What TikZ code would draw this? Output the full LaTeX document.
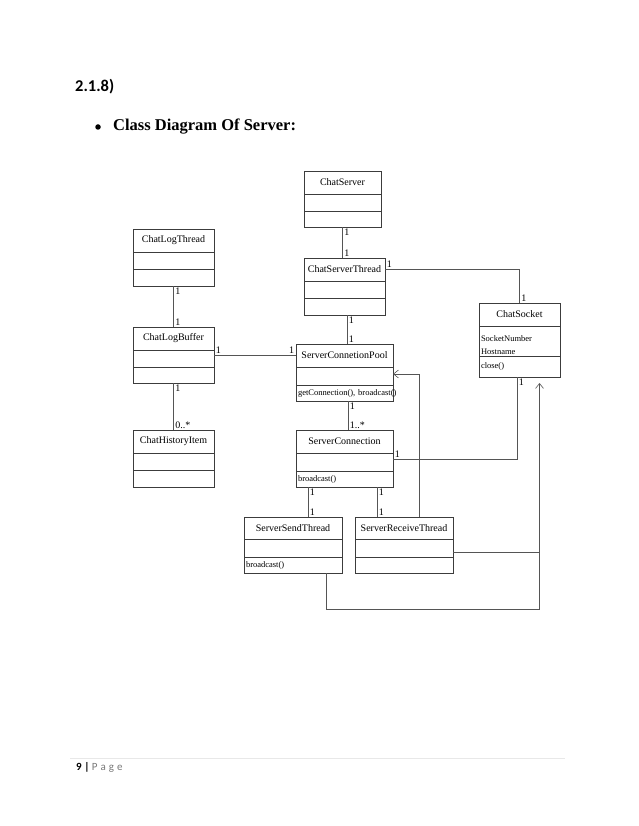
\documentclass[tikz,border=0pt]{standalone}
\usepackage{fontspec}
\setmainfont{Liberation Serif}
\newfontfamily\calibri{Carlito}
\usepackage{tikz}
\usetikzlibrary{arrows.meta,positioning}
\definecolor{umlline}{RGB}{60,60,60}
\definecolor{umlconn}{RGB}{85,85,85}
\definecolor{pagegray}{RGB}{120,120,120}
\definecolor{rulegray}{RGB}{232,232,232}
\tikzstyle{clsname} = [draw=umlline, line width=0.6pt, anchor=north west, minimum height=23pt, inner sep=2pt, outer sep=0pt, font=\fontsize{10}{12}\selectfont]
\tikzstyle{clsbody} = [draw=umlline, line width=0.6pt, minimum height=17pt, inner sep=2pt, outer sep=0pt, align=left, font=\fontsize{8.5}{12.5}\selectfont]
\tikzstyle{assoc} = [draw=umlconn, line width=0.6pt]
\tikzstyle{navarrow} = [assoc, -{Straight Barb[length=5pt,width=8pt]}]
\tikzstyle{mult} = [inner sep=1.5pt, font=\fontsize{10}{11}\selectfont]

\begin{document}
\begin{tikzpicture}[x=1pt,y=-1pt]
\useasboundingbox (0,0) rectangle (638,826);

% Heading
\node[anchor=west, inner sep=0, font=\calibri\bfseries\fontsize{16.5}{18}\selectfont] (sec) at (75,87) {2.1.8)};
\node[circle, fill, inner sep=0, minimum size=5.5pt] (dot) at (98,127) {};
\node[anchor=west, inner sep=0, font=\bfseries\fontsize{16.5}{18}\selectfont] (title) at (113,127) {Class Diagram Of Server:};

% Classes
\node[clsname, minimum width=77pt] (srv) at (304,171) {ChatServer};
\node[clsbody, minimum width=77pt, below=0pt of srv] (srv-a) {};
\node[clsbody, minimum width=77pt, minimum height=16pt, below=0pt of srv-a] (srv-o) {};

\node[clsname, minimum width=81pt] (srvThread) at (304,258) {ChatServerThread};
\node[clsbody, minimum width=81pt, below=0pt of srvThread] (srvThread-a) {};
\node[clsbody, minimum width=81pt, below=0pt of srvThread-a] (srvThread-o) {};

\node[clsname, minimum width=81pt] (logThread) at (133,229) {ChatLogThread};
\node[clsbody, minimum width=81pt, below=0pt of logThread] (logThread-a) {};
\node[clsbody, minimum width=81pt, below=0pt of logThread-a] (logThread-o) {};

\node[clsname, minimum width=81pt] (logBuf) at (133,327) {ChatLogBuffer};
\node[clsbody, minimum width=81pt, below=0pt of logBuf] (logBuf-a) {};
\node[clsbody, minimum width=81pt, minimum height=16pt, below=0pt of logBuf-a] (logBuf-o) {};

\node[clsname, minimum width=81pt] (histItem) at (133,430) {ChatHistoryItem};
\node[clsbody, minimum width=81pt, below=0pt of histItem] (histItem-a) {};
\node[clsbody, minimum width=81pt, below=0pt of histItem-a] (histItem-o) {};

\node[clsname, minimum width=97pt] (pool) at (296,344) {ServerConnetionPool};
\node[clsbody, minimum width=97pt, minimum height=18pt, below=0pt of pool] (pool-a) {};
\node[clsbody, text width=93pt, minimum height=16pt, below=0pt of pool-a] (pool-o) {\mbox{getConnection(), broadcast()}};

\node[clsname, minimum width=97pt] (conn) at (296,430) {ServerConnection};
\node[clsbody, minimum width=97pt, minimum height=18pt, below=0pt of conn] (conn-a) {};
\node[clsbody, text width=93pt, minimum height=16pt, below=0pt of conn-a] (conn-o) {broadcast()};

\node[clsname, minimum width=98pt, minimum height=22pt] (sendThr) at (244,517) {ServerSendThread};
\node[clsbody, minimum width=98pt, minimum height=18pt, below=0pt of sendThr] (sendThr-a) {};
\node[clsbody, text width=94pt, minimum height=16pt, below=0pt of sendThr-a] (sendThr-o) {broadcast()};

\node[clsname, minimum width=98pt, minimum height=22pt] (recvThr) at (355,517) {ServerReceiveThread};
\node[clsbody, minimum width=98pt, minimum height=18pt, below=0pt of recvThr] (recvThr-a) {};
\node[clsbody, minimum width=98pt, minimum height=16pt, below=0pt of recvThr-a] (recvThr-o) {};

\node[clsname, minimum width=81pt] (sock) at (479,303) {ChatSocket};
\node[clsbody, text width=77pt, inner ysep=0pt, minimum height=30pt, below=0pt of sock] (sock-a) {\rule{0pt}{14pt}SocketNumber\\Hostname};
\node[clsbody, text width=77pt, minimum height=21pt, below=0pt of sock-a] (sock-o) {close()};

% Associations
\draw[assoc] (srv-o.south) -- node[mult, pos=0, anchor=north west]{1} node[mult, pos=1, anchor=south west]{1} (srv-o.south |- srvThread.north);
\draw[assoc] (srvThread.east) node[mult, anchor=south west]{1} -| (sock.north) node[mult, anchor=south west]{1};
\draw[assoc] (logThread-o.south) -- node[mult, pos=0, anchor=north west]{1} node[mult, pos=1, anchor=south west]{1} (logBuf.north);
\draw[assoc] ([xshift=2.5pt]srvThread-o.south) -- node[mult, pos=0, anchor=north west]{1} node[mult, pos=1, anchor=south west]{1} ([xshift=2.5pt]pool.north);
\draw[assoc] (logBuf.east |- pool.west) -- node[mult, pos=0, anchor=south west]{1} node[mult, pos=1, anchor=south east]{1} (pool.west);
\draw[assoc] (logBuf-o.south) -- node[mult, pos=0, anchor=north west]{1} node[mult, pos=1, anchor=south west]{0..*} (histItem.north);
\draw[assoc] ([xshift=3.5pt]pool-o.south) -- node[mult, pos=0, anchor=north west]{1} node[mult, pos=1, anchor=south west]{1..*} ([xshift=3.5pt]pool-o.south |- conn.north);
\draw[assoc] ([xshift=-36.5pt]conn-o.south) -- node[mult, pos=0, anchor=north west]{1} node[mult, pos=1, anchor=south west]{1} ([xshift=-36.5pt]conn-o.south |- sendThr.north);
\draw[assoc] ([xshift=32.5pt]conn-o.south) -- node[mult, pos=0, anchor=north west]{1} node[mult, pos=1, anchor=south west]{1} ([xshift=32.5pt]conn-o.south |- recvThr.north);
\draw[assoc] ([yshift=3pt]conn-a.east) node[mult, anchor=south west]{1} -| ([xshift=-2.5pt]sock-o.south) node[mult, anchor=north west]{1};

% Navigations
\coordinate (sockIn) at ([xshift=20pt, yshift=-6pt]sock-o.south);
\draw[navarrow] ([xshift=15pt]recvThr.north) |- ([yshift=2pt]pool-a.east);
\draw[navarrow] ([xshift=33pt]sendThr-o.south) -- ++(0,36) -| (sockIn);
\draw[assoc] ([yshift=-4pt]recvThr-a.east) -- ([yshift=-4pt]recvThr-a.east -| sockIn);

% Footer
\draw[rulegray, line width=0.8pt] (70,758) -- (565,758);
\node[anchor=west, inner sep=0, font=\calibri\fontsize{11}{12}\selectfont] (pg) at (76,767) {\textbf{9 |} \textcolor{pagegray}{P\hspace{3pt}a\hspace{3pt}g\hspace{3pt}e}};
\end{tikzpicture}
\end{document}
